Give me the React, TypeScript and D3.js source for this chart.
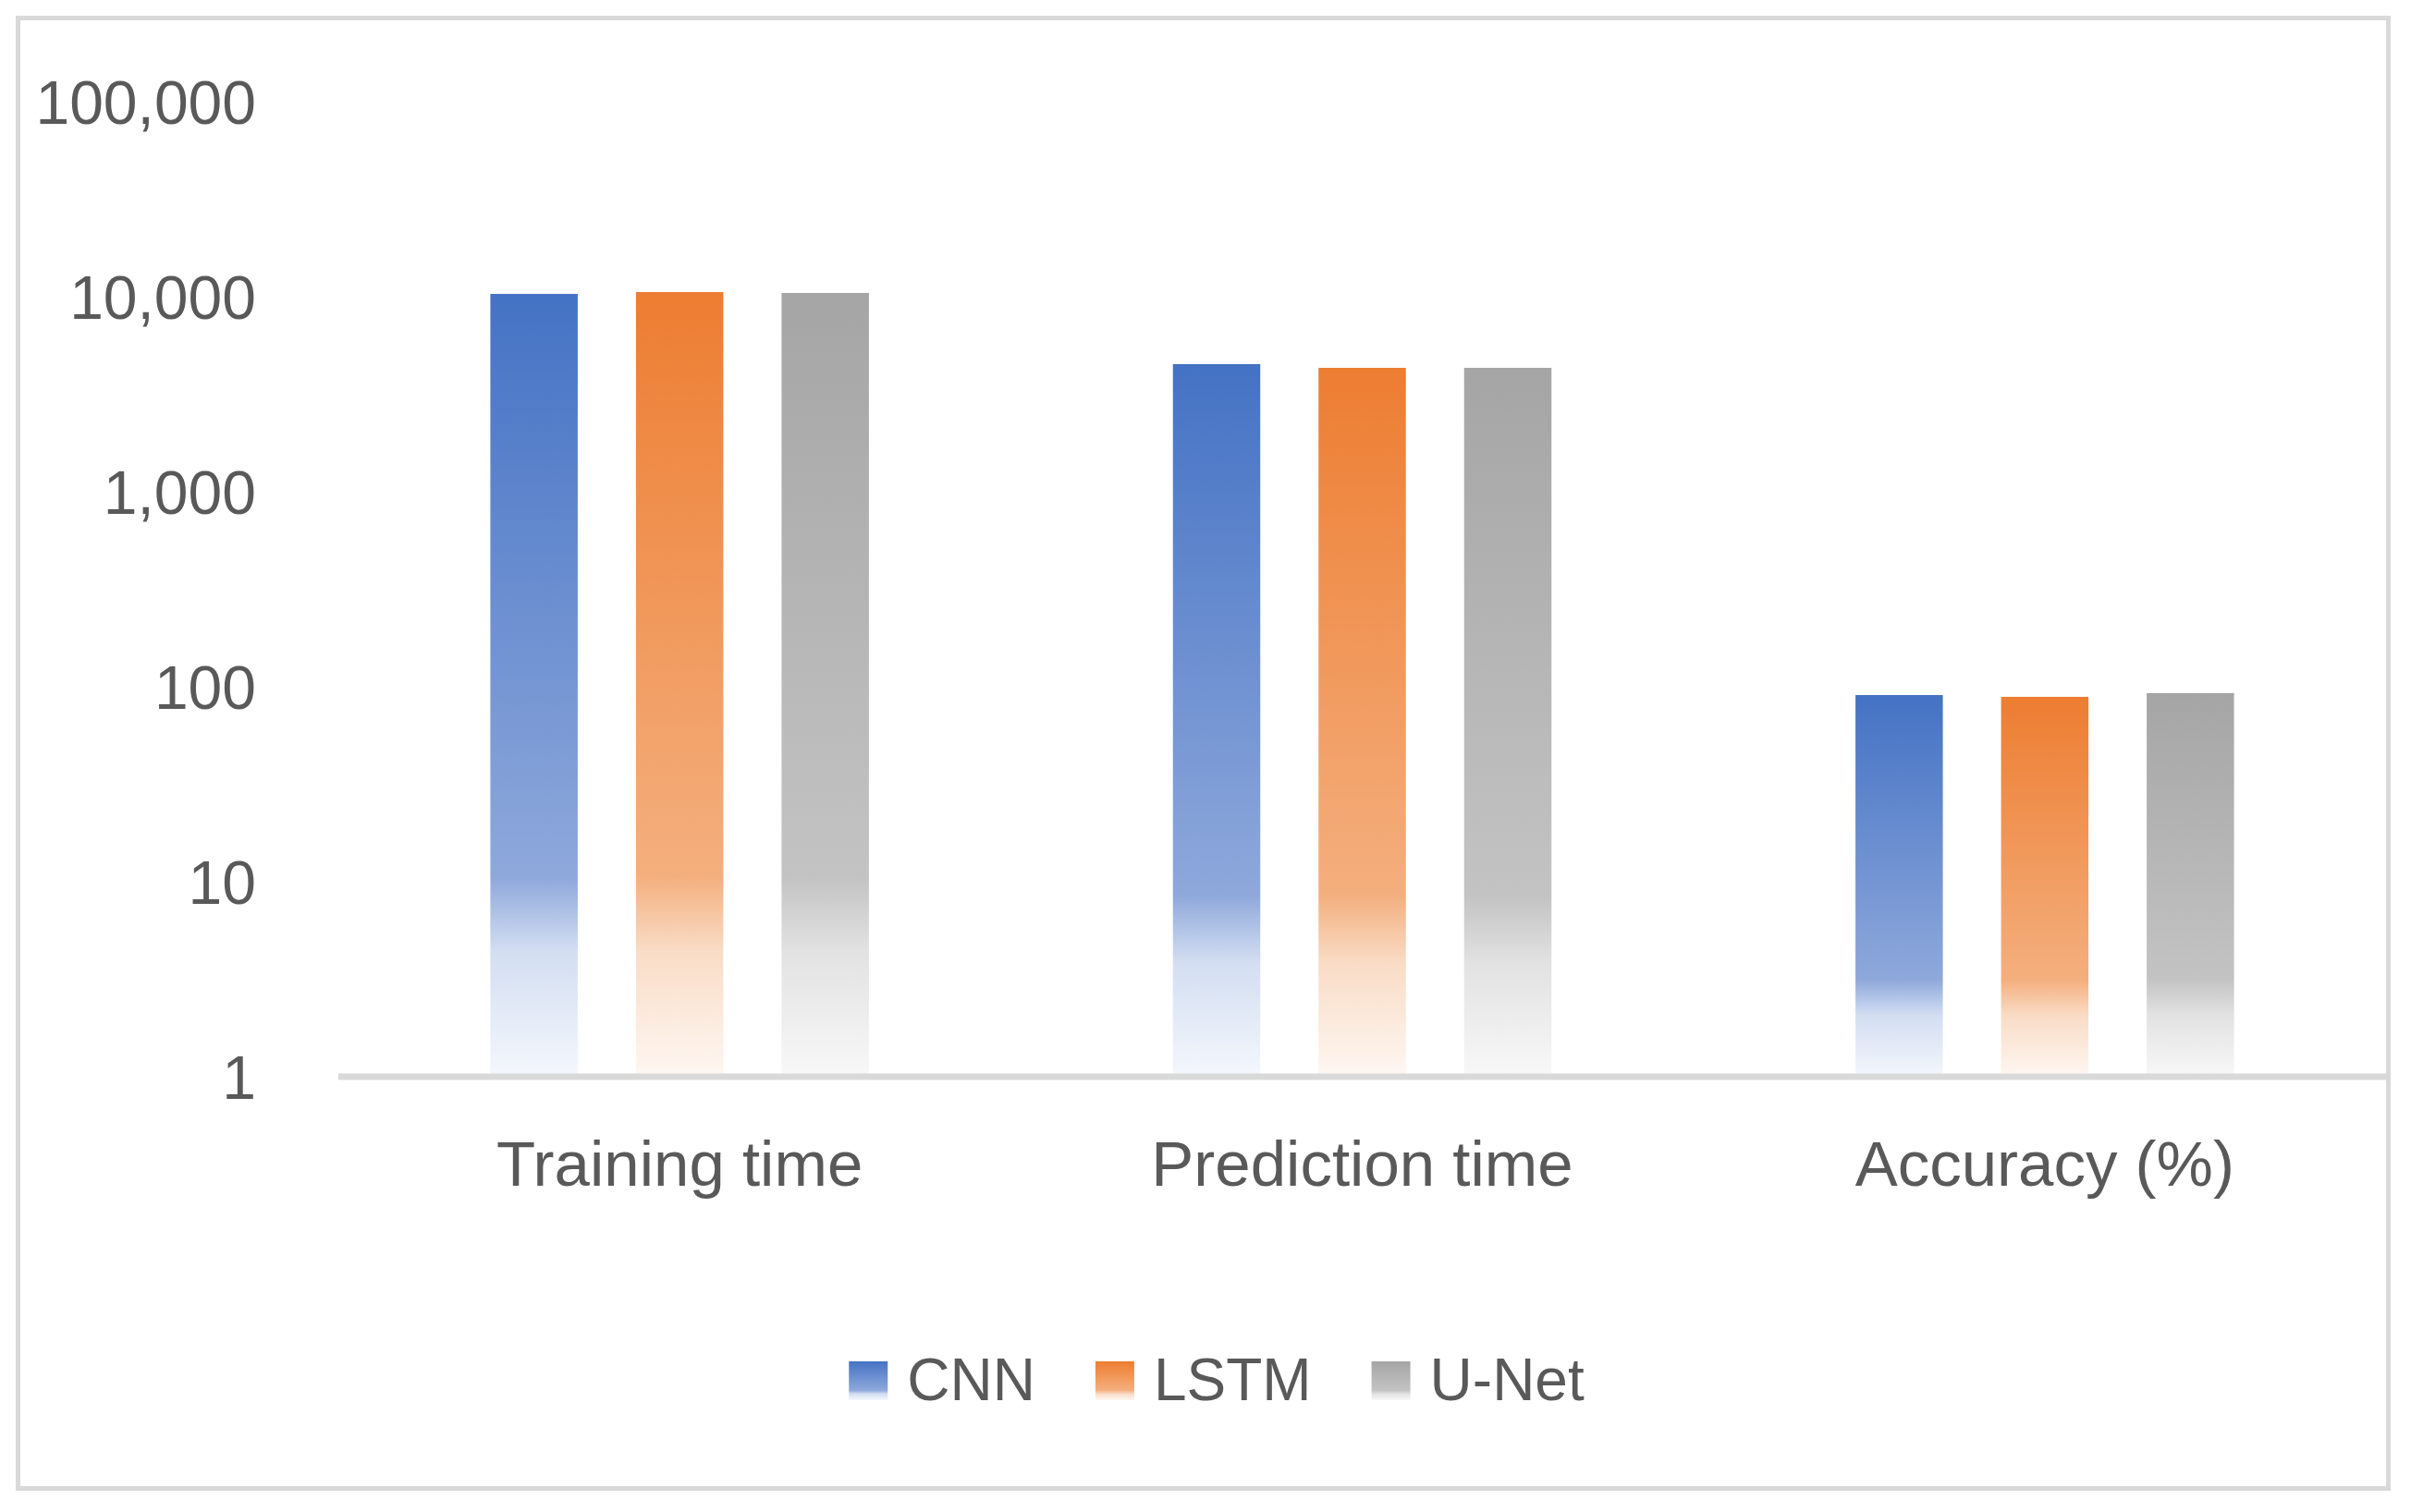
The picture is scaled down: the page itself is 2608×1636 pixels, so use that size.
import React, { useEffect, useRef } from 'react';
import * as d3 from 'd3';

// chart values (log scale)
const categories = ['Training time', 'Prediction time', 'Accuracy (%)'];
const seriesNames = ['CNN', 'LSTM', 'U-Net'];
const cnnValues = [10330, 4510, 90.6];
const lstmValues = [10560, 4315, 88.7];
const unetValues = [10450, 4315, 92.7];
const yTicks = [1, 10, 100, 1000, 10000, 100000];

// gradient stops per series: top colour, knee, bottom
const seriesStops = [
  ['#4472C4', '#8EA8DB', '#D3DEF2', '#F4F7FC'],
  ['#ED7D31', '#F4AF7E', '#F9DCC6', '#FEF7F2'],
  ['#A5A5A5', '#C3C3C3', '#E2E2E2', '#F8F8F8'],
];

const W = 2608;
const H = 1636;
const FONT = '"Liberation Sans", Arial, sans-serif';
const TEXT = '#595959';
const LINE = '#D9D9D9';

const App: React.FC = () => {
  const svgRef = useRef<SVGSVGElement>(null);

  useEffect(() => {
    if (!svgRef.current) return;
    const svg = d3.select(svgRef.current);
    svg.selectAll('*').remove();

    const plot = { left: 366, right: 2581, top: 110, bottom: 1165 };
    const values = [cnnValues, lstmValues, unetValues];

    // outer chart border
    svg.append('rect')
      .attr('x', 19.5).attr('y', 19.5)
      .attr('width', 2564).attr('height', 1591)
      .attr('fill', '#fff')
      .attr('stroke', LINE)
      .attr('stroke-width', 5);

    // gradients
    const defs = svg.append('defs');
    seriesStops.forEach((stops, i) => {
      const g = defs.append('linearGradient')
        .attr('id', `grad${i}`)
        .attr('x1', 0).attr('y1', 0).attr('x2', 0).attr('y2', 1);
      const offs = [0, 0.745, 0.84, 1];
      stops.forEach((c, k) => {
        g.append('stop').attr('offset', offs[k]).attr('stop-color', c);
      });
    });

    const x0 = d3.scaleBand<string>()
      .domain(categories)
      .range([plot.left, plot.right])
      .paddingInner(0)
      .paddingOuter(0);

    const groupWidth = 409.5;
    const x1 = d3.scaleBand<string>()
      .domain(seriesNames)
      .range([0, groupWidth])
      .paddingInner(0.4)
      .paddingOuter(0);

    const y = d3.scaleLog()
      .domain([1, 100000])
      .range([plot.bottom, plot.top]);

    // y tick labels
    const fmt = d3.format(',');
    svg.append('g')
      .selectAll('text')
      .data(yTicks)
      .enter()
      .append('text')
      .attr('x', 277)
      .attr('y', (d) => y(d) + 24)
      .attr('text-anchor', 'end')
      .style('font-family', FONT)
      .style('font-size', '66px')
      .style('fill', TEXT)
      .text((d) => fmt(d));

    // bars
    const groups = svg.append('g')
      .selectAll('g')
      .data(categories)
      .enter()
      .append('g')
      .attr('transform', (c) => `translate(${x0(c)! + (x0.bandwidth() - groupWidth) / 2},0)`);

    groups.selectAll('rect')
      .data((c, ci) => seriesNames.map((s, si) => ({ s, si, v: values[si][ci] })))
      .enter()
      .append('rect')
      .attr('x', (d) => x1(d.s)!)
      .attr('width', x1.bandwidth())
      .attr('y', (d) => y(d.v))
      .attr('height', (d) => y(1) - y(d.v))
      .attr('fill', (d) => `url(#grad${d.si})`);

    // category axis line
    svg.append('line')
      .attr('x1', plot.left).attr('x2', plot.right)
      .attr('y1', plot.bottom).attr('y2', plot.bottom)
      .attr('stroke', LINE)
      .attr('stroke-width', 7);

    // category labels
    svg.append('g')
      .selectAll('text')
      .data(categories)
      .enter()
      .append('text')
      .attr('x', (c) => x0(c)! + x0.bandwidth() / 2)
      .attr('y', 1283)
      .attr('text-anchor', 'middle')
      .style('font-family', FONT)
      .style('font-size', '69px')
      .style('fill', TEXT)
      .text((c) => c);

    // legend, laid out from measured text widths
    const legend = svg.append('g');
    const sw = 42;
    const gapText = 21;
    const gapEntry = 65;
    const items = seriesNames.map((s, i) => {
      const g = legend.append('g');
      g.append('rect')
        .attr('width', sw).attr('height', sw)
        .attr('y', 1473)
        .attr('fill', `url(#grad${i})`);
      const t = g.append('text')
        .attr('x', sw + gapText)
        .attr('y', 1515)
        .style('font-family', FONT)
        .style('font-size', '64px')
        .style('fill', TEXT)
        .text(s);
      const w = (t.node() as SVGTextElement).getComputedTextLength();
      return { g, w: sw + gapText + w };
    });
    const total = d3.sum(items, (d) => d.w) + gapEntry * (items.length - 1);
    let cx = 1316 - total / 2;
    items.forEach((it) => {
      it.g.attr('transform', `translate(${cx},0)`);
      cx += it.w + gapEntry;
    });
  }, []);

  return (
    <div style={{ position: 'absolute', left: 0, top: 0 }}>
      <svg ref={svgRef} width={W} height={H} style={{ display: 'block', background: '#fff' }} />
    </div>
  );
};

export default App;
